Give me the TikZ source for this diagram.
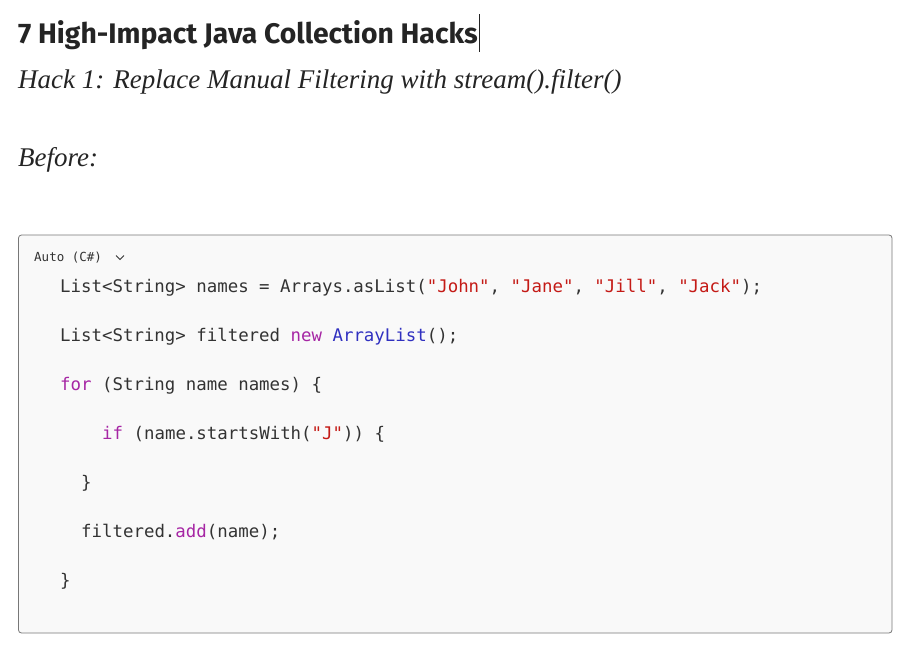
\documentclass[tikz,border=0pt]{standalone}
\usepackage{fontspec}
\setmainfont{Liberation Serif}
\newfontfamily\titlefont{Fira Sans}
\newfontfamily\codefont{DejaVu Sans Mono}
\definecolor{txt}{HTML}{242424}
\definecolor{codetxt}{HTML}{333333}
\definecolor{str}{HTML}{C41A16}
\definecolor{kw}{HTML}{A626A4}
\definecolor{cls}{HTML}{3030C0}
\definecolor{boxfill}{HTML}{F9F9F9}
\definecolor{boxline}{HTML}{777777}
\newcommand{\cstr}[1]{\textcolor{str}{#1}}
\newcommand{\ckw}[1]{\textcolor{kw}{#1}}
\newcommand{\ccls}[1]{\textcolor{cls}{#1}}
\tikzset{
  codeline/.style={anchor=base west,inner sep=0pt,text=codetxt,font=\codefont\fontsize{17.4}{19}\selectfont},
  head/.style={anchor=base west,inner sep=0pt,text=txt}
}
\begin{document}
\begin{tikzpicture}[x=1pt,y=-1pt]
\useasboundingbox (0,0) rectangle (900,653);
\node[head,font=\titlefont\bfseries\fontsize{28.3}{31}\selectfont] (title) at (18,43) {7 High-Impact Java Collection Hacks};
\draw[txt,line width=1pt] (479,14) -- (479,52);
\node[head,font=\itshape\fontsize{27}{30}\selectfont] (sub) at (18,88) {Hack 1: Replace Manual Filtering with stream().filter()};
\node[head,font=\itshape\fontsize{27}{30}\selectfont] (before) at (18,166) {Before:};
\draw[boxline,fill=boxfill,line width=0.8pt,rounded corners=3pt] (18.5,235) rectangle (892,633);
\node[anchor=base west,inner sep=0pt,text=codetxt,font=\codefont\fontsize{12.5}{14}\selectfont] (lang) at (34,261) {Auto (C\#)};
\draw[codetxt,line width=0.8pt] (116,255.5) -- (120,259.5) -- (124,255.5);
\node[codeline] (l1) at (60,292) {List<String> names = Arrays.asList(\cstr{"John"}, \cstr{"Jane"}, \cstr{"Jill"}, \cstr{"Jack"});};
\node[codeline] (l2) at (60,341) {List<String> filtered \ckw{new} \ccls{ArrayList}();};
\node[codeline] (l3) at (60,390) {\ckw{for} (String name names) \{};
\node[codeline] (l4) at (102,439) {\ckw{if} (name.startsWith(\cstr{"J"})) \{};
\node[codeline] (l5) at (81,488) {\}};
\node[codeline] (l6) at (81,537) {filtered.\ckw{add}(name);};
\node[codeline] (l7) at (60,586) {\}};
\end{tikzpicture}
\end{document}
